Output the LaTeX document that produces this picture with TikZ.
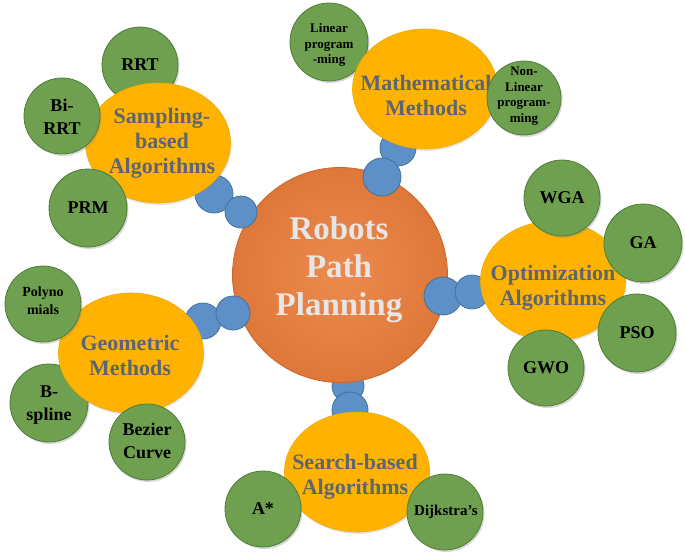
\documentclass[tikz,border=0pt]{standalone}
\usepackage{fontspec}
\setmainfont{Liberation Serif}
\usetikzlibrary{shapes.geometric,shadows}
\definecolor{goldF}{HTML}{FFB300}
\definecolor{goldD}{HTML}{F0A800}
\definecolor{greenF}{HTML}{6FA04F}
\definecolor{greenD}{HTML}{4F7D38}
\definecolor{blueF}{HTML}{5E90C8}
\definecolor{blueD}{HTML}{41719C}
\definecolor{orangeL}{HTML}{EC8A4E}
\definecolor{orangeD}{HTML}{DE7839}
\definecolor{orangeB}{HTML}{C9672C}
\definecolor{grayT}{HTML}{5D6570}
\definecolor{lightT}{HTML}{E6E6E6}
\begin{document}
\begin{tikzpicture}[x=1pt,y=-1pt,
  gnode/.style={circle, draw=greenD, fill=greenF, line width=0.8pt, minimum size=#1, inner sep=0pt,
    drop shadow={opacity=0.3,shadow xshift=1.5pt,shadow yshift=-2pt}},
  bnode/.style={circle, draw=blueD, fill=blueF, line width=0.8pt, minimum size=#1, inner sep=0pt},
  enode/.style={ellipse, fill=goldF, draw=goldD, line width=0.6pt, minimum width=145pt, minimum height=120pt, inner sep=0pt,
    drop shadow={opacity=0.2,shadow xshift=1pt,shadow yshift=-2pt}},
  etext/.style={text=grayT, font=\bfseries\fontsize{22}{25}\selectfont, align=center, inner sep=0pt},
  gtext/.style={text=black, font=\bfseries\fontsize{18}{23}\selectfont, align=center, inner sep=0pt},
  stext/.style={text=black, font=\bfseries\fontsize{13}{15.5}\selectfont, align=center, inner sep=0pt},
  ctext/.style={text=lightT, font=\bfseries\fontsize{33}{38}\selectfont, align=center, inner sep=0pt}]
\useasboundingbox (0,0) rectangle (685,554);
% hidden connector behind the core
\node[bnode=32pt] (s2) at (348,386) {};
% core
\node[circle, minimum size=215pt, inner sep=0pt, draw=orangeB, line width=0.8pt, shading=radial, inner color=orangeL, outer color=orangeD] (core) at (340,275) {};
\node[ctext] (core-t) at (339,270) {Robots\\Path\\Planning};
% connectors
\node[bnode=38pt] (a1) at (214,194) {};
\node[bnode=32pt] (a2) at (241,212) {};
\node[bnode=36pt] (m1) at (398,148) {};
\node[bnode=38pt] (m2) at (382,177) {};
\node[bnode=38pt] (o1) at (443,296) {};
\node[bnode=34pt] (o2) at (472,292) {};
\node[bnode=36pt] (g1) at (203,321) {};
\node[bnode=34pt] (g2) at (233,313) {};
\node[bnode=36pt] (s1) at (350,410) {};
% green circles behind ellipses
\node[gnode=76pt] (rrt) at (140,65) {};
\node[gnode=78pt] (lin) at (329,42) {};
\node[gnode=78pt] (bsp) at (49,403) {};
% ellipses
\node[enode] (samp) at (158,143) {};
\node[etext] (samp-t) at (162,143) {Sampling-\\based\\Algorithms};
\node[enode] (math) at (425,89) {};
\node[etext] (math-t) at (426,95) {Mathematical\\Methods};
\node[enode] (opt) at (553,281) {};
\node[etext] (opt-t) at (553,288) {Optimization\\Algorithms};
\node[enode] (geo) at (131,353) {};
\node[etext] (geo-t) at (130,355) {Geometric\\Methods};
\node[enode] (srch) at (357,472) {};
\node[etext] (srch-t) at (355,477) {Search-based\\Algorithms};
% green circles in front
\node[gnode=76pt] (birrt) at (62,116) {};
\node[gnode=78pt] (prm) at (88,208) {};
\node[gnode=74pt] (nlin) at (524,98) {};
\node[gnode=76pt] (wga) at (562,198) {};
\node[gnode=78pt] (ga) at (643,243) {};
\node[gnode=78pt] (pso) at (637,333) {};
\node[gnode=76pt] (gwo) at (546,368) {};
\node[gnode=76pt] (poly) at (43,304) {};
\node[gnode=76pt] (bez) at (147,442) {};
\node[gnode=76pt] (astar) at (263,509) {};
\node[gnode=76pt] (dijk) at (445,512) {};
% green labels
\node[gtext] (rrt-t) at (rrt) {RRT};
\node[stext] (lin-t) at (329,45) {Linear\\program\\-ming};
\node[gtext] (bsp-t) at (49,405) {B-\\spline};
\node[gtext] (birrt-t) at (62,117) {Bi-\\RRT};
\node[gtext] (prm-t) at (prm) {PRM};
\node[stext] (nlin-t) at (524,96) {Non-\\Linear\\program-\\ming};
\node[gtext] (wga-t) at (wga) {WGA};
\node[gtext] (ga-t) at (ga) {GA};
\node[gtext] (pso-t) at (pso) {PSO};
\node[gtext] (gwo-t) at (gwo) {GWO};
\node[text=black, font=\bfseries\fontsize{14}{18}\selectfont, align=center, inner sep=0pt] (poly-t) at (43,301) {Polyno\\mials};
\node[gtext] (bez-t) at (147,441) {Bezier\\Curve};
\node[gtext] (astar-t) at (astar) {A*};
\node[text=black, font=\bfseries\fontsize{15}{18}\selectfont, inner sep=0pt] (dijk-t) at (446,512) {Dijkstra’s};
\end{tikzpicture}
\end{document}
